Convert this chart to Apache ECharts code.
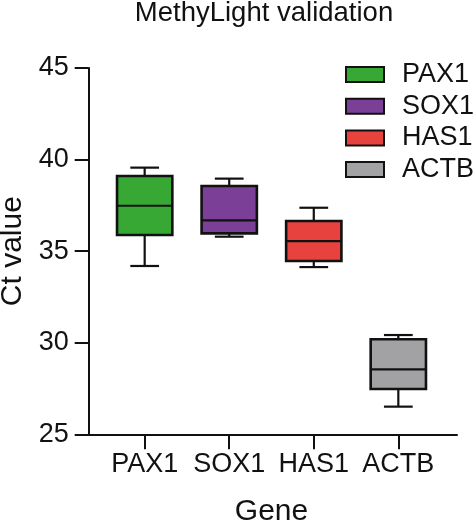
<!DOCTYPE html>
<html lang="en">
<head>
  <meta charset="UTF-8">
  <title>MethyLight validation</title>
  <script src="https://cdn.jsdelivr.net/npm/echarts@6/dist/echarts.min.js"></script>
  <style>
    html, body { margin: 0; padding: 0; background: #fff; }
    #main { width: 474px; height: 523px; }
  </style>
</head>
<body>
  <div id="main"></div>

  <script>
    // Ct values: whisker ends, box edges, median
    const genes   = ['PAX1', 'SOX1', 'HAS1', 'ACTB'];
    const colors  = ['#38a835', '#7b3f98', '#e8423f', '#a2a2a5'];
    const mins    = [34.19, 35.79, 34.13, 26.51];
    const q1s     = [35.88, 35.97, 34.46, 27.47];
    const medians = [37.48, 36.68, 35.55, 28.55];
    const q3s     = [39.10, 38.56, 36.65, 30.19];
    const maxs    = [39.56, 38.96, 37.37, 30.42];
    const yTicks  = { min: 25, max: 45, interval: 5 };

    const font = 'Liberation Sans, Arial, sans-serif';
    const chart = echarts.init(document.getElementById('main'));

    function renderBox(params, api) {
      const i = api.value(0);
      const band = api.size([1, 0])[0];
      const half = band * 0.327;
      const cap = band * 0.17;
      const pMin = api.coord([i, api.value(1)]);
      const pQ1 = api.coord([i, api.value(2)]);
      const pMed = api.coord([i, api.value(3)]);
      const pQ3 = api.coord([i, api.value(4)]);
      const pMax = api.coord([i, api.value(5)]);
      const cx = pMed[0];
      const line = { stroke: '#111', lineWidth: 2.2 };
      return {
        type: 'group',
        children: [
          { type: 'line', shape: { x1: cx, y1: pMax[1], x2: cx, y2: pQ3[1] }, style: line },
          { type: 'line', shape: { x1: cx, y1: pQ1[1], x2: cx, y2: pMin[1] }, style: line },
          { type: 'line', shape: { x1: cx - cap, y1: pMax[1], x2: cx + cap, y2: pMax[1] }, style: line },
          { type: 'line', shape: { x1: cx - cap, y1: pMin[1], x2: cx + cap, y2: pMin[1] }, style: line },
          {
            type: 'rect',
            shape: { x: cx - half, y: pQ3[1], width: half * 2, height: pQ1[1] - pQ3[1] },
            style: { fill: api.visual('color'), stroke: '#111', lineWidth: 2.6 }
          },
          { type: 'line', shape: { x1: cx - half, y1: pMed[1], x2: cx + half, y2: pMed[1] }, style: line }
        ]
      };
    }

    const option = {
      animation: false,
      title: {
        text: 'MethyLight validation',
        left: 259,
        top: -6,
        textAlign: 'center',
        textStyle: { fontFamily: font, fontSize: 27.5, fontWeight: 'normal', color: '#111' }
      },
      legend: {
        orient: 'vertical',
        left: 340,
        top: 56,
        itemWidth: 38,
        itemHeight: 15,
        itemGap: 4.7,
        icon: 'rect',
        itemStyle: { borderColor: '#111', borderWidth: 2 },
        textStyle: { fontFamily: font, fontSize: 27, color: '#111', padding: [0, 0, 0, 13] },
        data: genes
      },
      grid: [
        { left: 88.7, right: 17, top: 68, bottom: 88.7, containLabel: false, outerBoundsMode: 'none' },
        { left: 102.4, right: 33.4, top: 68, bottom: 88.7, containLabel: false, outerBoundsMode: 'none' }
      ],
      xAxis: [
        {
          gridIndex: 0,
          type: 'value',
          min: 0,
          max: 1,
          axisLine: { show: true, lineStyle: { color: '#111', width: 2 } },
          axisTick: { show: false },
          axisLabel: { show: false },
          splitLine: { show: false }
        },
        {
          gridIndex: 1,
          type: 'category',
          data: genes,
          boundaryGap: true,
          name: 'Gene',
          nameLocation: 'middle',
          nameGap: 62,
          nameTextStyle: { fontFamily: font, fontSize: 30, color: '#111' },
          axisLine: { show: false },
          axisTick: { show: true, alignWithLabel: true, length: 15, lineStyle: { color: '#111', width: 2 } },
          axisLabel: { interval: 0, fontFamily: font, fontSize: 27, color: '#111', margin: 17 },
          splitLine: { show: false }
        }
      ],
      yAxis: [
        {
          gridIndex: 0,
          type: 'value',
          min: yTicks.min,
          max: yTicks.max,
          interval: yTicks.interval,
          name: 'Ct value',
          nameLocation: 'middle',
          nameGap: 61,
          nameTextStyle: { fontFamily: font, fontSize: 30, color: '#111' },
          axisLine: { show: true, lineStyle: { color: '#111', width: 2 } },
          axisTick: { show: true, length: 14, lineStyle: { color: '#111', width: 2 } },
          axisLabel: { fontFamily: font, fontSize: 27, color: '#111', margin: 20 },
          splitLine: { show: false }
        },
        {
          gridIndex: 1,
          type: 'value',
          min: yTicks.min,
          max: yTicks.max,
          interval: yTicks.interval,
          show: false
        }
      ],
      series: genes.map((g, i) => ({
        name: g,
        type: 'custom',
        xAxisIndex: 1,
        yAxisIndex: 1,
        itemStyle: { color: colors[i] },
        encode: { x: 0, y: [1, 2, 3, 4, 5] },
        renderItem: renderBox,
        data: [[i, mins[i], q1s[i], medians[i], q3s[i], maxs[i]]]
      }))
    };

    chart.setOption(option);
  </script>
</body>
</html>
